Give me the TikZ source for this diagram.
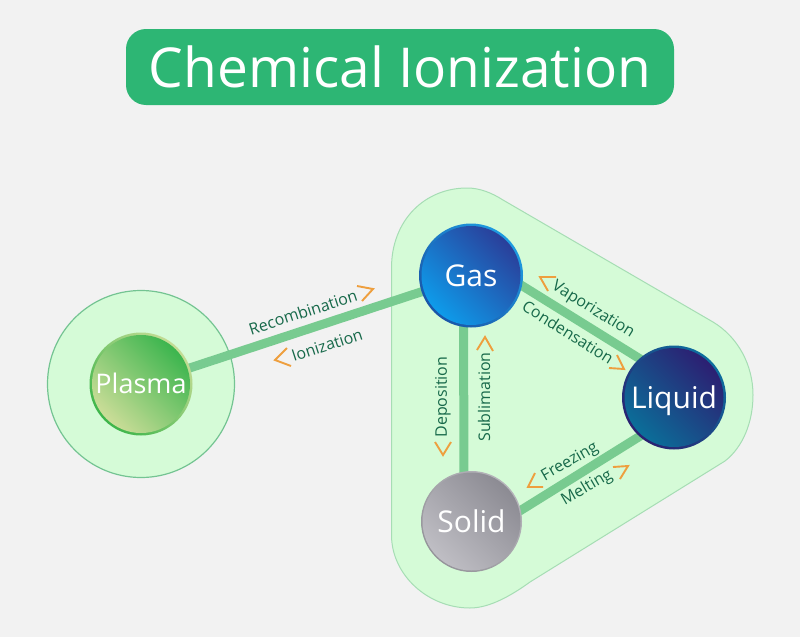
\documentclass[tikz,border=0pt]{standalone}
\usepackage{fontspec}
\setmainfont{Open Sans}
\usetikzlibrary{calc}
\pgfdeclarelayer{back}
\pgfdeclarelayer{mid}
\pgfsetlayers{back,mid,main}
\definecolor{pagebg}{HTML}{F2F2F2}
\definecolor{titlegreen}{HTML}{2DB674}
\definecolor{regionfill}{HTML}{D5FBD7}
\definecolor{regionedge}{HTML}{A6DDB4}
\definecolor{haloedge}{HTML}{74C492}
\definecolor{linkgreen}{HTML}{78CB90}
\definecolor{labelgreen}{HTML}{17694A}
\definecolor{chevorange}{HTML}{EE9F3E}
\definecolor{gastop}{HTML}{2A3F9A}\definecolor{gasbot}{HTML}{0E9BEA}
\definecolor{gasrimtop}{HTML}{1E9BE0}\definecolor{gasrimbot}{HTML}{1A55A8}
\definecolor{liqtop}{HTML}{2C1F72}\definecolor{liqbot}{HTML}{0B6E99}
\definecolor{liqrimtop}{HTML}{0E6E9E}\definecolor{liqrimbot}{HTML}{2A2070}
\definecolor{soltop}{HTML}{8C8B93}\definecolor{solbot}{HTML}{BFBEC4}
\definecolor{solrimtop}{HTML}{B5B4BA}\definecolor{solrimbot}{HTML}{95949A}
\definecolor{platop}{HTML}{3CB54E}\definecolor{plabot}{HTML}{CBDD98}
\definecolor{plarimtop}{HTML}{C5DC95}\definecolor{plarimbot}{HTML}{3DB54A}
\tikzset{
  diag/.style 2 args={top color=#1,bottom color=#2,shading angle=-45},
  statebox/.style={circle,inner sep=0pt,minimum size=#1,text=white,font=\fontsize{30}{32}\selectfont,text height=21.5pt,text depth=0pt},
  rimbox/.style={circle,inner sep=0pt,minimum size=#1},
  linkline/.style={draw=linkgreen,line width=9pt},
  chevron/.style={draw=chevorange,line width=1.9pt,line join=miter},
  linklabel/.style={text=labelgreen,font=\fontsize{16}{18}\selectfont,inner sep=0pt}
}
\begin{document}
\begin{tikzpicture}[x=1pt,y=-1pt]
\useasboundingbox (0,0) rectangle (800,637);
\begin{pgfonlayer}{back}
\fill[pagebg] (0,0) rectangle (800,637);
\draw[fill=regionfill,draw=regionedge,line width=1pt] (391.5,268)
  .. controls (391.5,220) and (425,188) .. (467,188)
  .. controls (480,188) and (492,193) .. (503,200)
  -- (713,322)
  .. controls (738,337) and (753,365) .. (753,395)
  .. controls (753,422) and (743,447) .. (725,461)
  -- (530,582)
  .. controls (512,595) and (490,608) .. (470,608)
  .. controls (428,608) and (391.5,575) .. (391.5,535)
  -- cycle;
\node[circle,fill=regionfill,draw=haloedge,line width=1.2pt,minimum size=187pt,inner sep=0pt] (halo) at (141,384) {};
\end{pgfonlayer}
\node[fill=titlegreen,rounded corners=20pt,minimum width=548pt,minimum height=76pt,inner sep=0pt,text=white,font=\fontsize{55}{60}\selectfont] (title) at (400,67) {Chemical Ionization};
% rims
\node[rimbox=104pt,diag={gasrimtop}{gasrimbot}] (gasrim) at (471,275.5) {};
\node[rimbox=104pt,diag={liqrimtop}{liqrimbot}] (liquidrim) at (674,397.5) {};
\node[rimbox=101pt,diag={solrimtop}{solrimbot}] (solidrim) at (471.5,521.5) {};
\node[rimbox=103pt,diag={plarimtop}{plarimbot}] (plasmarim) at (141,384) {};
% states
\node[statebox=99pt,diag={gastop}{gasbot}] (gas) at (471,275.5) {Gas};
\node[statebox=99pt,diag={liqtop}{liqbot}] (liquid) at (674,397.5) {Liquid};
\node[statebox=98pt,diag={soltop}{solbot}] (solid) at (471.5,521.5) {Solid};
\node[statebox=98pt,diag={platop}{plabot},font=\fontsize{27}{30}\selectfont,text height=19.5pt] (plasma) at (141,384) {Plasma};
% connectors
\begin{pgfonlayer}{mid}
\draw[linkline] (plasma.center) -- (gas.center);
\draw[linkline] ([xshift=-7.5pt]gas.center) -- ([xshift=-7.5pt]solid.center);
\draw[linkline] ([yshift=21.5pt]gas.center) -- ([yshift=17.5pt]liquid.center);
\draw[linkline] ([yshift=-19.5pt]solid.center) -- ([yshift=-17.5pt]liquid.center);
\end{pgfonlayer}
% labels
\node[linklabel,rotate=18] (lrec) at (303,312) {Recombination};
\node[linklabel,rotate=18] (lion) at (327,345) {Ionization};
\node[linklabel,rotate=-32] (lvap) at (593,310) {Vaporization};
\node[linklabel,rotate=-32] (lcon) at (568,332) {Condensation};
\node[linklabel,rotate=90] (ldep) at (443,397) {Deposition};
\node[linklabel,rotate=90] (lsub) at (484,397) {Sublimation};
\node[linklabel,rotate=30] (lfre) at (570,462) {Freezing};
\node[linklabel,rotate=30] (lmel) at (587,488) {Melting};
% chevrons
\draw[chevron] (357,286) -- (373,289) -- (362,301);
\draw[chevron] (291,366) -- (275,360) -- (287,348);
\draw[chevron] (556,277) -- (540,277) -- (548,291);
\draw[chevron] (617,355) -- (624,369) -- (609,368);
\draw[chevron] (477,350) -- (485,337) -- (493,351);
\draw[chevron] (435,442) -- (443,455) -- (451,442);
\draw[chevron] (535,473) -- (528,487) -- (543,487);
\draw[chevron] (613,467) -- (628,466) -- (620,479);
\end{tikzpicture}
\end{document}
